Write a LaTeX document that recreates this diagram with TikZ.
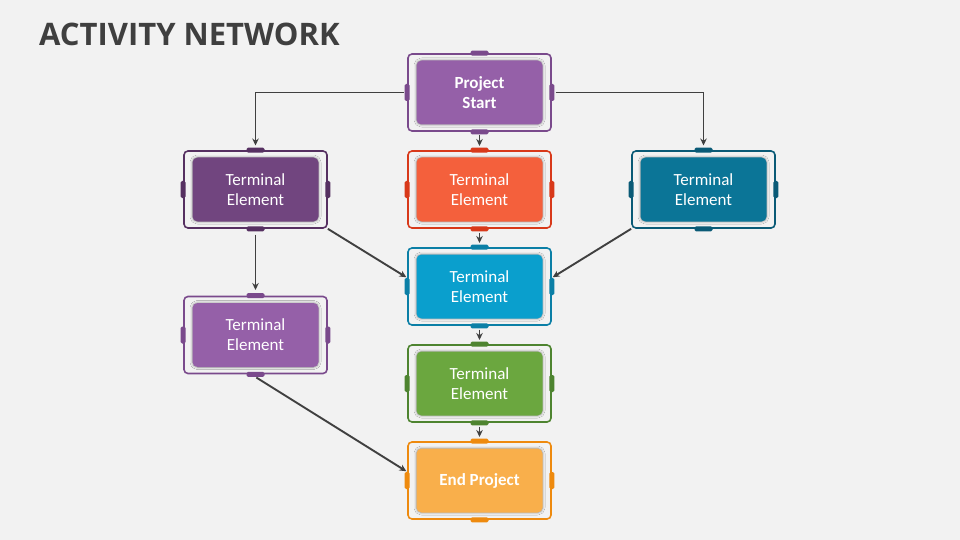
\documentclass[tikz,border=0pt]{standalone}
\usepackage{fontspec}
\setmainfont{Carlito}
\newfontfamily\titlefont{Open Sans}
\usetikzlibrary{calc,arrows.meta,shadows.blur}

\definecolor{bgcol}{HTML}{F2F2F2}
\definecolor{linecol}{HTML}{404040}
\definecolor{titlecol}{HTML}{3F3F3F}
% fills and dark rims
\definecolor{lilac}{HTML}{9560A8}
\definecolor{lilacD}{HTML}{7A4A8C}
\definecolor{plum}{HTML}{71457F}
\definecolor{plumD}{HTML}{563061}
\definecolor{coral}{HTML}{F4603C}
\definecolor{coralD}{HTML}{D8391A}
\definecolor{teal}{HTML}{0B7597}
\definecolor{tealD}{HTML}{0A5A76}
\definecolor{sky}{HTML}{0A9FCD}
\definecolor{skyD}{HTML}{0B7FA6}
\definecolor{leaf}{HTML}{6BA73F}
\definecolor{leafD}{HTML}{4E8430}
\definecolor{amber}{HTML}{F9AF4B}
\definecolor{amberD}{HTML}{EE8A0E}

% name, x, y, fill, rim, text
\newcommand{\actbox}[6]{%
  \node[frame,draw=#5] (#1) at (#2,#3) {};
  \node[inner,fill=#4] (#1-in) at (#1) {#6};
  \node[htab,fill=#5] (#1-n) at (#1.north) {};
  \node[htab,fill=#5] (#1-s) at (#1.south) {};
  \node[vtab,fill=#5] (#1-w) at (#1.west) {};
  \node[vtab,fill=#5] (#1-e) at (#1.east) {};
}

\begin{document}
\begin{tikzpicture}
[x=1pt,y=-1pt,>={Stealth[length=7pt,width=6.5pt]},
frame/.style={rounded corners=4pt,line width=1.6pt,minimum width=143pt,minimum height=77pt,inner sep=0pt},
inner/.style={rounded corners=5pt,minimum width=126pt,minimum height=64pt,inner sep=0pt,text=white,align=center,
  font=\fontsize{17}{20}\selectfont,
  blur shadow={shadow xshift=0pt,shadow yshift=0pt,shadow blur radius=2.5pt,shadow blur steps=10,shadow opacity=40}},
htab/.style={rounded corners=1.5pt,minimum width=18pt,minimum height=5pt,inner sep=0pt},
vtab/.style={rounded corners=1.5pt,minimum width=5pt,minimum height=17pt,inner sep=0pt},
link/.style={->,draw=linecol,line width=1.9pt},]

\fill[bgcol] (0,0) rectangle (960,540);

%Title
\node[anchor=base west,inner sep=0pt,text=titlecol,font=\titlefont\bfseries\fontsize{31}{34}\selectfont] (title) at (39,46) {ACTIVITY NETWORK};

%Boxes
\actbox{ps}{479.5}{92.5}{lilac}{lilacD}{\bfseries Project\\\bfseries Start}
\actbox{lt}{255.5}{189.5}{plum}{plumD}{Terminal\\Element}
\actbox{ct}{479.5}{189.5}{coral}{coralD}{Terminal\\Element}
\actbox{rt}{703.5}{189.5}{teal}{tealD}{Terminal\\Element}
\actbox{cm}{479.5}{286.5}{sky}{skyD}{Terminal\\Element}
\actbox{lb}{255.5}{335}{lilac}{lilacD}{Terminal\\Element}
\actbox{cb}{479.5}{383.5}{leaf}{leafD}{Terminal\\Element}
\actbox{ep}{479.5}{480.5}{amber}{amberD}{\bfseries End Project}

%Links
\draw[link,shorten <=1pt,shorten >=2pt] (ps-w.west) -| (lt-n.north);
\draw[link,shorten <=1pt,shorten >=2pt] (ps-e.east) -| (rt-n.north);
\draw[link,shorten <=1pt,shorten >=1.5pt] (ps-s.south) -- (ct-n.north);
\draw[link,shorten <=1pt,shorten >=1.5pt] (ct-s.south) -- (cm-n.north);
\draw[link,shorten <=1pt,shorten >=1.5pt] (cm-s.south) -- (cb-n.north);
\draw[link,shorten <=1pt,shorten >=1.5pt] (cb-s.south) -- (ep-n.north);
\draw[link,shorten <=3pt,shorten >=3pt] (lt-s.south) -- (lb-n.north);
\draw[link,shorten >=1pt] (lt.south east) -- (cm-w.north);
\draw[link,shorten >=1pt] (rt.south west) -- (cm-e.north);
\draw[link,shorten <=1pt,shorten >=1pt] (lb-s.south) -- (ep-w.north);

\end{tikzpicture}
\end{document}
